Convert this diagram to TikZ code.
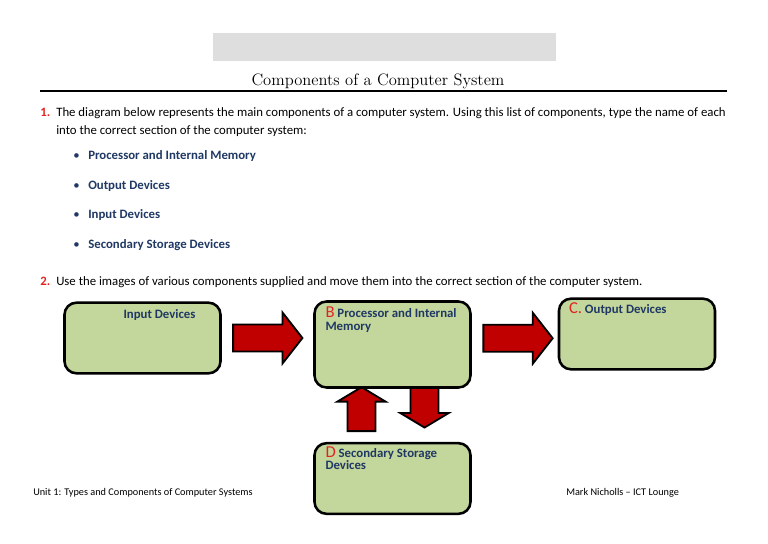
\documentclass[tikz,border=0pt]{standalone}
\usepackage{fontspec}
\newfontfamily\bodyfont{Carlito}
\usetikzlibrary{positioning,shapes.arrows,calc,backgrounds}
\definecolor{boxgreen}{RGB}{195,214,155}
\definecolor{arrowred}{RGB}{192,0,0}
\definecolor{navy}{RGB}{31,56,100}
\definecolor{numred}{RGB}{225,35,35}
\definecolor{bargray}{RGB}{222,222,222}
\tikzset{basic/.style={anchor=base west,inner sep=0pt,font=\bodyfont\fontsize{9.6}{11}\selectfont}}
\tikzset{item/.style={basic,text=navy,font=\bodyfont\bfseries\fontsize{9.6}{11}\selectfont}}
\tikzset{footer/.style={basic,font=\bodyfont\fontsize{7.7}{8}\selectfont}}
\tikzset{section/.style={draw=black,line width=1.9pt,fill=boxgreen,rounded corners=9pt,minimum width=117pt,minimum height=53pt}}
\tikzset{boxlabel/.style={item,align=left,font=\bodyfont\bfseries\fontsize{9.6}{9.2}\selectfont}}
\tikzset{blockarrow/.style={single arrow,draw=black,line width=1.4pt,fill=arrowred,inner sep=9.4pt,single arrow head extend=9pt,single arrow tip angle=104,minimum height=52pt}}
\tikzset{vblockarrow/.style={blockarrow,inner sep=9.8pt,single arrow head extend=7.6pt,single arrow tip angle=118,minimum height=33pt}}
\newcommand{\letterlabel}[1]{\textcolor{numred}{\mdseries\fontsize{12.5}{9.2}\selectfont #1}}

\begin{document}
\begin{tikzpicture}[x=0.75pt,y=-0.75pt]
        \useasboundingbox (0,0) rectangle (768,543);
        \fill[bargray] (213,33) rectangle (556,61);
        \node[anchor=base,inner sep=0pt,font=\fontsize{12.4}{15}\selectfont] (title) at (378,85) {Components of a Computer System};
        \draw[line width=0.8pt] (40,91) -- (727,91);
        % question 1
        \node[basic,text=numred,font=\bodyfont\bfseries\fontsize{9.6}{11}\selectfont] (q1) at (40,116) {1.};
        \node[basic] (q1a) at (56,116) {The diagram below represents the main components of a computer system. Using this list of components, type the name of each};
        \node[basic] (q1b) at (56,134) {into the correct section of the computer system:};
        \node[item] (i1) at (88,159) {Processor and Internal Memory};
        \node[item] (i2) at (88,189) {Output Devices};
        \node[item] (i3) at (88,218) {Input Devices};
        \node[item] (i4) at (88,248) {Secondary Storage Devices};
        \node[basic,text=navy,anchor=base east] at ($(i1.base west)+(-8,0)$) {\textbullet};
        \node[basic,text=navy,anchor=base east] at ($(i2.base west)+(-8,0)$) {\textbullet};
        \node[basic,text=navy,anchor=base east] at ($(i3.base west)+(-8,0)$) {\textbullet};
        \node[basic,text=navy,anchor=base east] at ($(i4.base west)+(-8,0)$) {\textbullet};
        % question 2
        \node[basic,text=numred,font=\bodyfont\bfseries\fontsize{9.6}{11}\selectfont] (q2) at (40,285) {2.};
        \node[basic] (q2a) at (56,285) {Use the images of various components supplied and move them into the correct section of the computer system.};
        % the four sections
        \node[section] (input) at (142.5,338) {};
        \node[section,minimum height=64.5pt] (cpu) at (392.5,344.5) {};
        \node[section] (output) at (637,334) {};
        \node[section] (storage) at (392.5,478.5) {};
        \node[boxlabel] at ($(input.north west)+(60,17)$) {Input Devices};
        \node[boxlabel] at ($(cpu.north west)+(12,30)$) {\letterlabel{B} Processor and Internal\\Memory};
        \node[boxlabel] at ($(output.north west)+(11,16)$) {\letterlabel{C.} Output Devices};
        \node[boxlabel] at ($(storage.north west)+(12,28)$) {\letterlabel{D} Secondary Storage\\Devices};
        % arrows between the sections
        \begin{scope}[on background layer]
            \node[blockarrow] (in2cpu) at ($(input.east)!.5!(cpu.west |- input.east)+(-5,0)$) {};
            \node[blockarrow] (cpu2out) at ($(cpu.east)!.5!(output.west)+(-2,-1)$) {};
            \node[vblockarrow,shape border rotate=90] (sto2cpu) at ($(cpu.south)!.5!(storage.north)+(-31,-2)$) {};
            \node[vblockarrow,shape border rotate=270] (cpu2sto) at ($(cpu.south)!.5!(storage.north)+(32,-14)$) {};
        \end{scope}
        % footer
        \node[footer] (unit) at (33,495) {Unit 1: Types and Components of Computer Systems};
        \node[footer] (author) at (566,495) {Mark Nicholls \textendash{} ICT Lounge};
    \end{tikzpicture}
\end{document}
